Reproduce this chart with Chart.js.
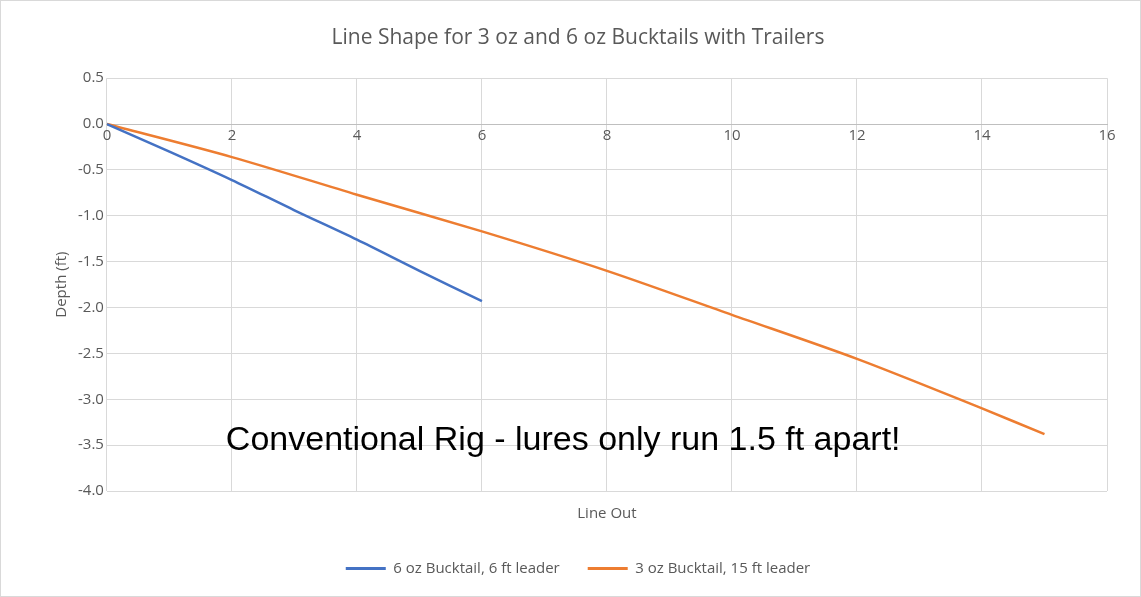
<!DOCTYPE html>
<html>
<head>
<script src="https://cdn.jsdelivr.net/npm/chart.js@4"></script>
<style>
  body { margin: 0; background: #fff; }
  #wrap { width: 1139px; height: 595px; border: 1px solid #d9d9d9; }
</style>
</head>
<body>
<div id="wrap"><canvas id="myChart"></canvas></div>
<script>
const blueX = [0, 1, 2, 3, 4, 5, 6];
const blueY = [0, -0.3, -0.61, -0.94, -1.26, -1.6, -1.93];
const orangeX = [0, 2, 4, 6, 8, 10, 12, 14, 15];
const orangeY = [0, -0.36, -0.77, -1.17, -1.6, -2.08, -2.56, -3.1, -3.38];
const xTicks = [0, 2, 4, 6, 8, 10, 12, 14, 16];
const yTicks = [0.5, 0, -0.5, -1, -1.5, -2, -2.5, -3, -3.5, -4];

const pts = (xs, ys) => xs.map((x, i) => ({ x: x, y: ys[i] }));
const font = { family: "'Open Sans', sans-serif", size: 15 };

const note = {
  id: "note",
  afterDatasetsDraw(chart) {
    let ctx = chart.ctx;
    let x = chart.scales.x.getPixelForValue(7.3);
    let y = chart.scales.y.getPixelForValue(-3.45);
    ctx.save();
    ctx.font = "34px Arial, 'Liberation Sans', sans-serif";
    ctx.fillStyle = "#000";
    ctx.textAlign = "center";
    ctx.textBaseline = "middle";
    ctx.fillText("Conventional Rig - lures only run 1.5 ft apart!", x, y);
    ctx.restore();
  },
};

new Chart(document.getElementById("myChart"), {
  type: "scatter",
  data: {
    datasets: [
      {
        label: "6 oz Bucktail, 6 ft leader",
        data: pts(blueX, blueY),
        showLine: true,
        borderColor: "#4472c4",
        backgroundColor: "#4472c4",
        borderWidth: 2.5,
        pointRadius: 0,
        tension: 0.3,
      },
      {
        label: "3 oz Bucktail, 15 ft leader",
        data: pts(orangeX, orangeY),
        showLine: true,
        borderColor: "#ed7d31",
        backgroundColor: "#ed7d31",
        borderWidth: 2.5,
        pointRadius: 0,
        tension: 0.3,
      },
    ],
  },
  options: {
    responsive: true,
    maintainAspectRatio: false,
    animation: false,
    layout: { padding: { left: 48, right: 33, top: 14, bottom: 10 } },
    plugins: {
      title: {
        display: true,
        text: "Line Shape for 3 oz and 6 oz Bucktails with Trailers",
        color: "#595959",
        font: { family: font.family, size: 21, weight: "normal" },
        padding: { top: 10, bottom: 28 },
      },
      legend: {
        position: "bottom",
        labels: {
          color: "#595959",
          font: font,
          boxWidth: 40,
          boxHeight: 0,
          padding: 28,
          generateLabels(chart) {
            return chart.data.datasets.map((d, i) => ({
              text: d.label,
              strokeStyle: d.borderColor,
              fillStyle: d.borderColor,
              lineWidth: 3,
              datasetIndex: i,
              fontColor: "#595959",
            }));
          },
        },
      },
      tooltip: { enabled: false },
    },
    scales: {
      x: {
        type: "linear",
        position: { y: 0 },
        min: 0,
        max: 16,
        afterBuildTicks: (s) => { s.ticks = xTicks.map((v) => ({ value: v })); },
        ticks: { color: "#595959", font: font },
        grid: { color: "#d9d9d9", drawTicks: false },
        border: { color: "#bfbfbf" },
      },
      x2: {
        type: "linear",
        position: "bottom",
        min: 0,
        max: 16,
        ticks: { display: false },
        grid: { display: false },
        border: { display: false },
        title: { display: true, text: "Line Out", color: "#595959", font: font, padding: { top: 6, bottom: 10 } },
      },
      y: {
        min: -4,
        max: 0.5,
        afterBuildTicks: (s) => { s.ticks = yTicks.map((v) => ({ value: v })); },
        ticks: { color: "#595959", font: font, callback: (v) => v.toFixed(1) },
        grid: { color: "#d9d9d9", drawTicks: false },
        border: { display: false },
        title: { display: true, text: "Depth (ft)", color: "#595959", font: font },
      },
    },
  },
  plugins: [note],
});
</script>
</body>
</html>
